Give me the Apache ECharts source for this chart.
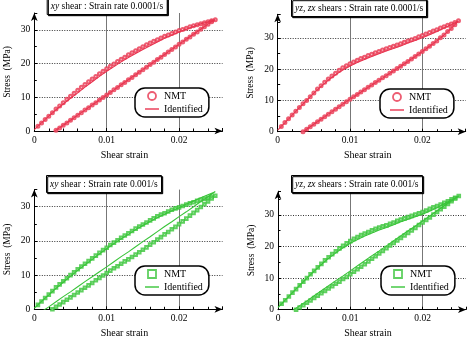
<!DOCTYPE html>
<html>
<head>
<meta charset="utf-8">
<script src="https://cdn.jsdelivr.net/npm/echarts@6/dist/echarts.min.js"></script>
<style>
  html, body { margin: 0; padding: 0; background: #fff; }
  #chart { width: 474px; height: 354px; }
</style>
</head>
<body>
<div id="chart"></div>
<script>
// shear strain grids (NMT markers every 0.0005, identified lines every 0.001)
const strainFine = [0, 0.0005, 0.001, 0.0015, 0.002, 0.0025, 0.003, 0.0035, 0.004, 0.0045,
  0.005, 0.0055, 0.006, 0.0065, 0.007, 0.0075, 0.008, 0.0085, 0.009, 0.0095,
  0.01, 0.0105, 0.011, 0.0115, 0.012, 0.0125, 0.013, 0.0135, 0.014, 0.0145,
  0.015, 0.0155, 0.016, 0.0165, 0.017, 0.0175, 0.018, 0.0185, 0.019, 0.0195,
  0.02, 0.0205, 0.021, 0.0215, 0.022, 0.0225, 0.023, 0.0235, 0.024, 0.0245, 0.025]
const strainCoarse = [0, 0.001, 0.002, 0.003, 0.004, 0.005, 0.006, 0.007, 0.008, 0.009,
  0.01, 0.011, 0.012, 0.013, 0.014, 0.015, 0.016, 0.017, 0.018, 0.019,
  0.02, 0.021, 0.022, 0.023, 0.024, 0.025]

// xy shear, 0.0001/s (stress MPa)
const nmtUp1 = [null, 1.4, 2.4, 3.4, 4.4, 5.4, 6.5, 7.4, 8.4, 9.4, 10.3, 11.2, 12.1, 13.0, 13.8, 14.6, 15.4, 16.2, 17.0, 17.7,
  18.5, 19.2, 19.9, 20.6, 21.3, 21.9, 22.6, 23.2, 23.8, 24.4, 25.0, 25.6, 26.1, 26.6, 27.1, 27.6, 28.1, 28.5, 28.9, 29.4,
  29.8, 30.1, 30.5, 30.9, 31.2, 31.5, 31.8, 32.1, 32.4, 32.7, 33.0]
const nmtDown1 = [null, null, null, null, null, null, 0.2, 0.9, 1.7, 2.4, 3.2, 3.9, 4.7, 5.4, 6.2, 6.9, 7.7, 8.4, 9.2, 9.9,
  10.7, 11.4, 12.2, 12.9, 13.7, 14.4, 15.2, 15.9, 16.7, 17.4, 18.2, 18.9, 19.7, 20.4, 21.2, 21.9, 22.7, 23.4, 24.2, 24.9,
  25.7, 26.4, 27.2, 27.9, 28.7, 29.4, 30.2, 30.9, 31.7, 32.4, null]
const lineUp1 = [0.4, 2.4, 4.4, 6.3, 8.0, 9.7, 11.3, 13.0, 14.6, 16.2, 17.7, 19.1, 20.5, 21.8, 23.0, 24.2, 25.3, 26.4, 27.5, 28.4,
  29.4, 30.2, 31.0, 31.8, 32.4, 33.0]
const lineDown1 = [null, null, -1.4, 0.2, 1.7, 3.2, 4.7, 6.2, 7.7, 9.2, 10.7, 12.2, 13.7, 15.2, 16.7, 18.2, 19.7, 21.2, 22.7, 24.2,
  25.7, 27.2, 28.7, 30.2, 31.7, 33.0]

// yz, zx shears, 0.0001/s
const nmtUp2 = [null, 1.7, 2.9, 4.1, 5.3, 6.5, 7.7, 8.9, 10.0, 11.2, 12.4, 13.6, 14.7, 15.8, 16.8, 17.8, 18.7, 19.6, 20.4, 21.1,
  21.7, 22.3, 22.8, 23.4, 23.8, 24.3, 24.7, 25.2, 25.6, 26.1, 26.5, 26.9, 27.3, 27.7, 28.1, 28.6, 29.0, 29.4, 29.8, 30.3,
  30.7, 31.2, 31.7, 32.2, 32.6, 33.1, 33.5, 34.0, 34.4, 34.9, 35.4]
const nmtDown2 = [null, null, null, null, null, null, null, 0.0, 0.8, 1.6, 2.4, 3.2, 4.0, 4.8, 5.6, 6.4, 7.2, 8.0, 8.8, 9.6,
  10.4, 11.2, 11.9, 12.7, 13.4, 14.2, 14.9, 15.7, 16.4, 17.2, 17.9, 18.7, 19.4, 20.2, 20.9, 21.7, 22.4, 23.2, 24.0, 24.8,
  25.6, 26.5, 27.3, 28.2, 29.0, 30.0, 30.9, 32.0, 33.0, 34.2, null]
const lineUp2 = [0.5, 2.9, 5.3, 7.7, 10.0, 12.3, 14.5, 16.5, 18.2, 19.7, 21.0, 22.1, 23.1, 24.0, 24.9, 25.8, 26.6, 27.4, 28.3, 29.1,
  30.0, 31.0, 32.0, 33.1, 34.2, 35.4]
const lineDown2 = [null, null, null, -0.8, 0.8, 2.4, 4.0, 5.6, 7.2, 8.8, 10.4, 11.9, 13.4, 14.9, 16.4, 17.9, 19.4, 20.9, 22.4, 24.0,
  25.6, 27.3, 29.0, 30.9, 33.0, 35.4]

// xy shear, 0.001/s
const nmtUp3 = [null, 1.3, 2.3, 3.3, 4.3, 5.3, 6.4, 7.3, 8.2, 9.1, 10.0, 10.8, 11.7, 12.5, 13.3, 14.1, 14.9, 15.7, 16.5, 17.3,
  18.0, 18.8, 19.5, 20.2, 20.9, 21.6, 22.2, 22.9, 23.6, 24.2, 24.8, 25.4, 26.0, 26.6, 27.2, 27.7, 28.1, 28.6, 29.1, 29.5,
  29.8, 30.2, 30.6, 31.0, 31.3, 31.7, 32.0, 32.3, 32.6, 32.9, 33.2]
const nmtDown3 = [null, null, null, null, null, 0.0, 0.7, 1.4, 2.1, 2.8, 3.5, 4.2, 4.9, 5.6, 6.3, 7.0, 7.7, 8.5, 9.2, 9.9,
  10.6, 11.3, 12.0, 12.6, 13.3, 14.0, 14.6, 15.3, 16.0, 16.7, 17.4, 18.1, 18.9, 19.6, 20.4, 21.1, 21.9, 22.6, 23.4, 24.1,
  24.9, 25.7, 26.5, 27.4, 28.2, 29.0, 29.9, 30.7, 31.5, 32.4, null]
const lineUp3 = [0.3, 2.3, 4.2, 6.1, 7.9, 9.7, 11.4, 13.0, 14.6, 16.2, 17.7, 19.2, 20.6, 21.9, 23.3, 24.5, 25.7, 26.8, 27.8, 28.8,
  29.7, 30.7, 31.7, 32.6, 33.5, 34.4]
const lineDown3 = [null, -0.7, 0.7, 2.2, 3.7, 5.1, 6.6, 8.1, 9.5, 11.0, 12.4, 13.9, 15.4, 16.8, 18.3, 19.8, 21.2, 22.7, 24.2, 25.6,
  27.1, 28.5, 30.0, 31.5, 32.9, 34.4]

// yz, zx shears, 0.001/s
const nmtUp4 = [null, 1.9, 3.0, 4.2, 5.4, 6.5, 7.7, 8.9, 10.0, 11.2, 12.3, 13.4, 14.5, 15.6, 16.6, 17.6, 18.5, 19.4, 20.2, 21.0,
  21.7, 22.4, 23.0, 23.6, 24.1, 24.6, 25.1, 25.6, 26.0, 26.4, 26.7, 27.2, 27.6, 28.1, 28.5, 28.9, 29.3, 29.7, 30.1, 30.5,
  30.9, 31.4, 31.9, 32.4, 32.8, 33.3, 33.8, 34.3, 34.9, 35.4, 36.0]
const nmtDown4 = [null, null, null, null, null, 0.0, 0.7, 1.4, 2.2, 2.9, 3.7, 4.4, 5.2, 5.9, 6.7, 7.4, 8.2, 8.9, 9.7, 10.4,
  11.2, 12.0, 12.8, 13.6, 14.4, 15.3, 16.1, 16.9, 17.8, 18.6, 19.5, 20.3, 21.1, 21.9, 22.7, 23.5, 24.3, 25.1, 25.9, 26.8,
  27.6, 28.4, 29.2, 30.1, 30.9, 31.8, 32.6, 33.5, 34.3, 35.2, null]
const lineUp4 = [0.7, 3.0, 5.4, 7.7, 10.0, 12.2, 14.3, 16.3, 18.0, 19.6, 21.0, 22.2, 23.3, 24.3, 25.2, 26.0, 26.9, 27.8, 28.6, 29.4,
  30.2, 31.2, 32.3, 33.5, 34.7, 36.0]
const lineDown4 = [null, null, -0.3, 1.3, 2.8, 4.4, 6.0, 7.6, 9.2, 10.7, 12.3, 13.9, 15.5, 17.1, 18.6, 20.2, 21.8, 23.4, 25.0, 26.5,
  28.1, 29.7, 31.3, 32.9, 34.4, 36.0]

const RED = '#e8344f'
const GREEN = '#38c438'
const SERIF = '"Liberation Serif", "DejaVu Serif", serif'
const SQUARE = 'path://M0,0L10,0L10,10L0,10Z'
const DASH = 'path://M0,0L14,0L14,1.4L0,1.4Z'

const panels = [
  { grid: { left: 34.3, top: 13, width: 188.2, height: 118 }, yMax: 35, color: RED, symbol: 'emptyCircle', icon: 'circle',
    title: '{i|xy} shear : Strain rate 0.0001/s', titlePos: { left: 46.7, top: -3 }, legendPos: { left: 135, top: 88 },
    nmtUp: nmtUp1, nmtDown: nmtDown1, lineUp: lineUp1, lineDown: lineDown1 },
  { grid: { left: 277.7, top: 14.3, width: 188, height: 117.4 }, yMax: 37.5, color: RED, symbol: 'emptyCircle', icon: 'circle',
    title: '{i|yz}, {i|zx} shears : Strain rate 0.0001/s', titlePos: { left: 291, top: -1 }, legendPos: { left: 380, top: 89 },
    nmtUp: nmtUp2, nmtDown: nmtDown2, lineUp: lineUp2, lineDown: lineDown2 },
  { grid: { left: 34.3, top: 189.6, width: 188.2, height: 119.7 }, yMax: 35, color: GREEN, symbol: 'emptyRect', icon: SQUARE,
    title: '{i|xy} shear : Strain rate 0.001/s', titlePos: { left: 46, top: 175 }, legendPos: { left: 135, top: 266 },
    nmtUp: nmtUp3, nmtDown: nmtDown3, lineUp: lineUp3, lineDown: lineDown3 },
  { grid: { left: 278, top: 191.2, width: 188, height: 118.5 }, yMax: 37.5, color: GREEN, symbol: 'emptyRect', icon: SQUARE,
    title: '{i|yz}, {i|zx} shears : Strain rate 0.001/s', titlePos: { left: 291, top: 175 }, legendPos: { left: 381, top: 266 },
    nmtUp: nmtUp4, nmtDown: nmtDown4, lineUp: lineUp4, lineDown: lineDown4 }
]

// [strain, stress] pairs, skipping points that are not on this branch
function pairs(xs, ys) {
  return xs.map((x, i) => [x, ys[i]]).filter(p => p[1] !== null)
}

const axisLineStyle = {
  show: true, onZero: false, symbol: ['none', 'arrow'], symbolSize: [5, 8],
  lineStyle: { color: '#000', width: 1 }
}
const labelStyle = { fontFamily: SERIF, fontSize: 9.5, color: '#000' }

const option = {
  animation: false,
  backgroundColor: '#fff',
  title: panels.map(p => ({
    text: p.title,
    left: p.titlePos.left, top: p.titlePos.top,
    padding: [4, 4, 4, 4],
    backgroundColor: '#fff',
    borderColor: '#000', borderWidth: 1,
    shadowColor: '#000', shadowOffsetX: 1.2, shadowOffsetY: 1.2,
    textStyle: {
      fontFamily: SERIF, fontSize: 9.5, fontWeight: 'normal', color: '#000',
      rich: { i: { fontFamily: SERIF, fontSize: 9.5, fontStyle: 'italic', color: '#000' } }
    }
  })),
  grid: panels.map(p => p.grid),
  xAxis: panels.map((p, i) => ({
    gridIndex: i, type: 'value', min: 0, max: 0.026, interval: 0.01,
    axisLine: axisLineStyle,
    axisTick: { show: true, inside: true, length: 3, lineStyle: { color: '#000' } },
    minorTick: { show: true, splitNumber: 5, length: 2.5, lineStyle: { color: '#000' } },
    axisLabel: Object.assign({ showMaxLabel: false, margin: 4 }, labelStyle),
    splitLine: { show: true, showMinLine: false, showMaxLine: false, lineStyle: { color: '#777', width: 1 } },
    name: 'Shear strain', nameLocation: 'middle', nameGap: 19,
    nameTextStyle: { fontFamily: SERIF, fontSize: 10, color: '#000', padding: [0, 8, 0, 0] }
  })),
  yAxis: panels.map((p, i) => ({
    gridIndex: i, type: 'value', min: 0, max: p.yMax, interval: 10,
    axisLine: axisLineStyle,
    axisTick: { show: true, inside: true, length: 3, lineStyle: { color: '#000' } },
    minorTick: { show: true, splitNumber: 2, length: 2.5, lineStyle: { color: '#000' } },
    axisLabel: Object.assign({ showMaxLabel: false, margin: 4 }, labelStyle),
    splitLine: { show: true, showMinLine: false, showMaxLine: false, lineStyle: { color: '#333', width: 1, type: [1, 1.5] } },
    name: 'Stress  (MPa)', nameLocation: 'middle', nameGap: 22,
    nameTextStyle: { fontFamily: SERIF, fontSize: 9.5, color: '#000' }
  })),
  legend: panels.map((p, i) => ({
    left: p.legendPos.left, top: p.legendPos.top,
    orient: 'vertical',
    selectedMode: false,
    data: [
      { name: 'NMT_' + i, icon: p.icon, itemStyle: { color: '#fff', borderColor: p.color, borderWidth: 1.8 } },
      { name: 'Identified_' + i, icon: DASH, itemStyle: { color: p.color, borderWidth: 0 } }
    ],
    formatter: name => name.split('_')[0],
    itemWidth: 14, itemHeight: 8, itemGap: 3,
    padding: [3, 6, 3, 10],
    backgroundColor: '#fff',
    borderColor: '#000', borderWidth: 1.5, borderRadius: 10,
    textStyle: { fontFamily: SERIF, fontSize: 10, color: '#000' }
  })),
  series: []
}

panels.forEach((p, i) => {
  // identified loop: loading branch then back down the unloading branch
  const loop = pairs(strainCoarse, p.lineUp).concat(pairs(strainCoarse, p.lineDown).reverse())
  option.series.push({
    type: 'line', name: 'Identified_' + i, xAxisIndex: i, yAxisIndex: i,
    data: loop, symbol: 'none', clip: true,
    lineStyle: { color: p.color, width: 1.1 }, itemStyle: { color: p.color }
  })
  option.series.push({
    type: 'scatter', name: 'NMT_' + i, xAxisIndex: i, yAxisIndex: i,
    data: pairs(strainFine, p.nmtUp).concat(pairs(strainFine, p.nmtDown)),
    symbol: p.symbol, symbolSize: p.icon === 'circle' ? 3 : 2.6,
    itemStyle: { color: p.color, borderWidth: 0.9 }
  })
})

const chart = echarts.init(document.getElementById('chart'))
chart.setOption(option)
</script>
</body>
</html>
